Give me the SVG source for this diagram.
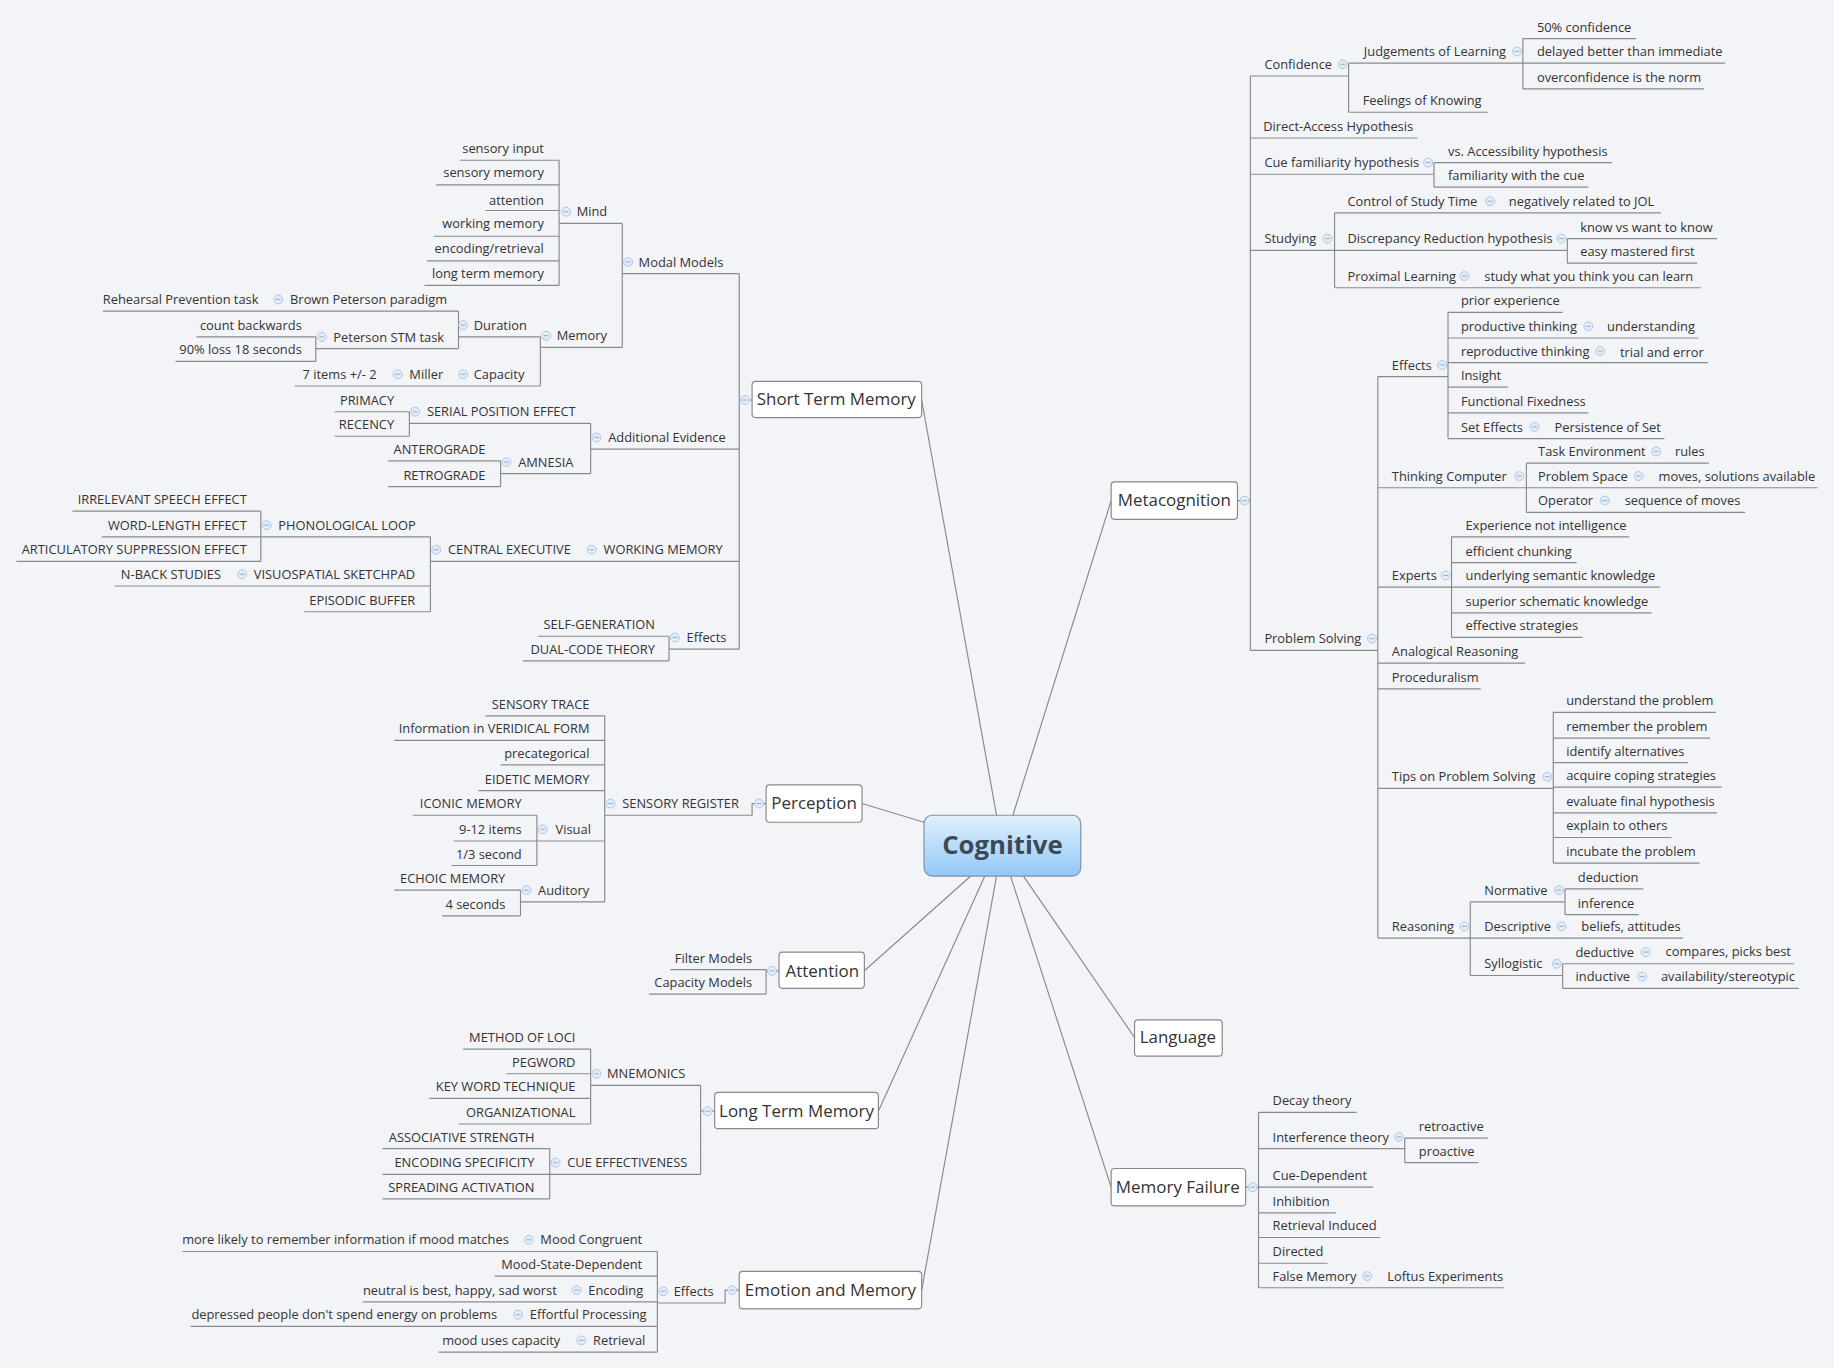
<svg xmlns="http://www.w3.org/2000/svg" xmlns:xlink="http://www.w3.org/1999/xlink" width="1834" height="1368" viewBox="0 0 1834 1368">
<style>
text{font-family:"Open Sans","DejaVu Sans",sans-serif;font-size:11px;fill:#333}
.l{text-anchor:end}
.m{font-size:14.5px;text-anchor:middle}
.box{fill:#fff;stroke:#888;stroke-width:1}
.c path{fill:none;stroke:#8a8a8a;stroke-width:1}
</style>
<defs>
<linearGradient id="cg" x1="0" y1="0" x2="0" y2="1"><stop offset="0" stop-color="#e2f0fd"/><stop offset="1" stop-color="#92c8f6"/></linearGradient>
<symbol id="mi" overflow="visible"><circle r="3.8" fill="#e3ecf7" stroke="#a9c3e2" stroke-width="0.8"/><path d="M-2,0H2" stroke="#8fb0d8" stroke-width="0.9"/></symbol>
</defs>
<rect width="1834" height="1368" fill="#f3f4f8"/>
<g transform="scale(1.16964)">
<g class="c" id="connectors">
<path d="M852,697L788,342M866,697L950,428M790,703L737,687M830,749L739,830M842,749L751,950M852,749L788,1103M875,749L970,887M864,749L950,1015"/>
<path d="M632,234V555M632,342H643M532,234H632M478,191H532M532,191V297M462,297H532M393,137H478M373,158H478M415,180H478M371,202H478M365,223H478M363,244H478M478,137V244M462,288V330M392,288H462M392,330H462M392,266V298M243,266H392M270,298H392M88,266H243M270,288V309M168,288H270M150,309H270M335,330H392M252,330H335"/>
<path d="M505,384H632M505,362V405M350,362H505M428,405H505M350,352V373M286,352H350M286,373H350M428,394V416M332,394H428M332,416H428M500,480H632M368,480H500M368,459V523M223,459H368M202,501H368M260,523H368M223,437V480M62,437H223M87,459H223M14,480H223M98,501H202M572,555H632M572,544V565M460,544H572M447,565H572"/>
<path d="M517,697H643V687H655M517,612V771M415,612H517M337,633H517M428,654H517M409,676H517M459,719H517M445,771H517M459,697V740M353,697H459M388,719H459M386,740H459M445,761V783M337,761H445M378,783H445"/>
<path d="M655,829V850M655,830H666M573,829H655M555,850H655"/>
<path d="M599,928V1004M599,950H611M505,928H599M470,1004H599M505,897V961M396,897H505M433,918H505M367,939H505M392,961H505M470,982V1025M327,982H470M327,1004H470M327,1025H470"/>
<path d="M562,1114H620V1103H632M562,1070V1156M447,1070H562M423,1091H562M488,1113H562M438,1134H562M492,1156H562M156,1070H447M310,1113H488M163,1134H438M375,1156H492"/>
<path d="M1058,428H1069M1069,65V556M1069,65H1153M1153,54V96M1153,54H1302M1153,96H1272M1302,33V76M1302,33H1399M1302,54H1475M1302,76H1457M1069,118H1212M1069,149H1226M1226,139V160M1226,139H1378M1226,160H1358M1069,214H1141M1141,182V246M1141,182H1279M1141,214H1340M1141,246H1257M1279,182H1420M1340,204V225M1340,204H1468M1340,225H1451M1257,246H1454"/>
<path d="M1069,556H1178M1178,322V802M1178,322H1238M1178,417H1305M1178,502H1241M1178,567H1304M1178,589H1266M1178,674H1328M1178,802H1257M1238,267V375M1238,267H1336M1238,289H1363M1238,310H1373M1238,331H1289M1238,353H1358M1238,375H1317M1363,289H1452M1373,310H1460M1317,375H1423M1305,396V438M1305,396H1421M1305,417H1406M1305,438H1377M1421,396H1461M1406,417H1554M1377,438H1492M1241,459V545M1241,459H1393M1241,481H1348M1241,502H1419M1241,524H1412M1241,545H1353M1328,609V738M1328,609H1467M1328,631H1462M1328,652H1443M1328,673H1472M1328,695H1468M1328,716H1429M1328,738H1453M1257,771V834M1257,771H1338M1257,802H1340M1257,834H1336M1338,760V782M1338,760H1405M1338,782H1401M1340,802H1439M1336,824V845M1336,824H1412M1336,845H1409M1412,824H1534M1409,845H1538"/>
<path d="M1065,1015H1076M1076,951V1101M1076,951H1160M1076,982H1201M1076,1015H1174M1076,1037H1142M1076,1058H1180M1076,1080H1135M1076,1101H1174M1201,973V994M1201,973H1272M1201,994H1264M1174,1101H1286"/>
</g>
<g id="center"><rect x="790" y="697" width="134" height="52" rx="7" fill="url(#cg)" stroke="#7d8fa3"/><text x="857" y="730" style="font-size:22px;font-weight:bold;fill:#3b4a57;text-anchor:middle">Cognitive</text></g>
<g id="stm"><rect class="box" x="643" y="326" width="145" height="31" rx="3"/><text class="m" x="715" y="346">Short Term Memory</text><use href="#mi" x="637" y="342"/></g>
<g id="perception"><rect class="box" x="655" y="671" width="82" height="32" rx="3"/><text class="m" x="696" y="692">Perception</text><use href="#mi" x="649" y="687"/></g>
<g id="attention"><rect class="box" x="666" y="814" width="73" height="31" rx="3"/><text class="m" x="703" y="835">Attention</text><use href="#mi" x="660" y="830"/></g>
<g id="ltm"><rect class="box" x="611" y="934" width="140" height="31" rx="3"/><text class="m" x="681" y="955">Long Term Memory</text><use href="#mi" x="605" y="950"/></g>
<g id="emotion"><rect class="box" x="632" y="1087" width="156" height="32" rx="3"/><text class="m" x="710" y="1108">Emotion and Memory</text><use href="#mi" x="626" y="1103"/></g>
<g id="meta"><rect class="box" x="950" y="412" width="108" height="32" rx="3"/><text class="m" x="1004" y="433">Metacognition</text><use href="#mi" x="1064" y="428"/></g>
<g id="language"><rect class="box" x="970" y="872" width="75" height="31" rx="3"/><text class="m" x="1007" y="892">Language</text></g>
<g id="mfail"><rect class="box" x="950" y="999" width="115" height="32" rx="3"/><text class="m" x="1007" y="1020">Memory Failure</text><use href="#mi" x="1071" y="1015"/></g>
<g id="stm-sub">
<g id="n1"><text x="546" y="228">Modal Models</text><use href="#mi" x="537" y="224"/></g>
<g id="n2"><text x="493" y="185">Mind</text><use href="#mi" x="484" y="181"/></g>
<g id="n3"><text class="l" x="465" y="131">sensory input</text></g>
<g id="n4"><text class="l" x="465" y="151">sensory memory</text></g>
<g id="n5"><text class="l" x="465" y="175">attention</text></g>
<g id="n6"><text class="l" x="465" y="195">working memory</text></g>
<g id="n7"><text class="l" x="465" y="216">encoding/retrieval</text></g>
<g id="n8"><text class="l" x="465" y="238">long term memory</text></g>
<g id="n9"><text x="476" y="291">Memory</text><use href="#mi" x="467" y="287"/></g>
<g id="n10"><text x="405" y="282">Duration</text><use href="#mi" x="396" y="278"/></g>
<g id="n11"><text x="405" y="324">Capacity</text><use href="#mi" x="396" y="320"/></g>
<g id="n12"><text x="248" y="260">Brown Peterson paradigm</text><use href="#mi" x="238" y="256"/></g>
<g id="n13"><text class="l" x="221" y="260">Rehearsal Prevention task</text></g>
<g id="n14"><text x="285" y="292">Peterson STM task</text><use href="#mi" x="275" y="288"/></g>
<g id="n15"><text class="l" x="258" y="282">count backwards</text></g>
<g id="n16"><text class="l" x="258" y="303">90% loss 18 seconds</text></g>
<g id="n17"><text x="350" y="324">Miller</text><use href="#mi" x="340" y="320"/></g>
<g id="n18"><text class="l" x="322" y="324">7 items +/- 2</text></g>
<g id="n19"><text x="520" y="378">Additional Evidence</text><use href="#mi" x="510" y="374"/></g>
<g id="n20"><text x="365" y="356">SERIAL POSITION EFFECT</text><use href="#mi" x="355" y="352"/></g>
<g id="n21"><text class="l" x="337" y="346">PRIMACY</text></g>
<g id="n22"><text class="l" x="337" y="367">RECENCY</text></g>
<g id="n23"><text x="443" y="399">AMNESIA</text><use href="#mi" x="433" y="395"/></g>
<g id="n24"><text class="l" x="415" y="388">ANTEROGRADE</text></g>
<g id="n25"><text class="l" x="415" y="410">RETROGRADE</text></g>
<g id="n26"><text x="516" y="474">WORKING MEMORY</text><use href="#mi" x="506" y="470"/></g>
<g id="n27"><text x="383" y="474">CENTRAL EXECUTIVE</text><use href="#mi" x="373" y="470"/></g>
<g id="n28"><text x="238" y="453">PHONOLOGICAL LOOP</text><use href="#mi" x="228" y="449"/></g>
<g id="n29"><text class="l" x="211" y="431">IRRELEVANT SPEECH EFFECT</text></g>
<g id="n30"><text class="l" x="211" y="453">WORD-LENGTH EFFECT</text></g>
<g id="n31"><text class="l" x="211" y="474">ARTICULATORY SUPPRESSION EFFECT</text></g>
<g id="n32"><text x="217" y="495">VISUOSPATIAL SKETCHPAD</text><use href="#mi" x="207" y="491"/></g>
<g id="n33"><text class="l" x="189" y="495">N-BACK STUDIES</text></g>
<g id="n34"><text class="l" x="355" y="517">EPISODIC BUFFER</text></g>
<g id="n35"><text x="587" y="549">Effects</text><use href="#mi" x="577" y="545"/></g>
<g id="n36"><text class="l" x="560" y="538">SELF-GENERATION</text></g>
<g id="n37"><text class="l" x="560" y="559">DUAL-CODE THEORY</text></g>
</g>
<g id="perc-sub">
<g id="p1"><text x="532" y="691">SENSORY REGISTER</text><use href="#mi" x="522" y="687"/></g>
<g id="p2"><text class="l" x="504" y="606">SENSORY TRACE</text></g>
<g id="p3"><text class="l" x="504" y="627">Information in VERIDICAL FORM</text></g>
<g id="p4"><text class="l" x="504" y="648">precategorical</text></g>
<g id="p5"><text class="l" x="504" y="670">EIDETIC MEMORY</text></g>
<g id="p6"><text x="475" y="713">Visual</text><use href="#mi" x="464" y="709"/></g>
<g id="p7"><text x="460" y="765">Auditory</text><use href="#mi" x="450" y="761"/></g>
<g id="p8"><text class="l" x="446" y="691">ICONIC MEMORY</text></g>
<g id="p9"><text class="l" x="446" y="713">9-12 items</text></g>
<g id="p10"><text class="l" x="446" y="734">1/3 second</text></g>
<g id="p11"><text class="l" x="432" y="755">ECHOIC MEMORY</text></g>
<g id="p12"><text class="l" x="432" y="777">4 seconds</text></g>
</g>
<g id="att-sub">
<g id="a1"><text class="l" x="643" y="823">Filter Models</text></g>
<g id="a2"><text class="l" x="643" y="844">Capacity Models</text></g>
</g>
<g id="ltm-sub">
<g id="l1"><text x="519" y="922">MNEMONICS</text><use href="#mi" x="510" y="918"/></g>
<g id="l2"><text x="485" y="998">CUE EFFECTIVENESS</text><use href="#mi" x="475" y="994"/></g>
<g id="l3"><text class="l" x="492" y="891">METHOD OF LOCI</text></g>
<g id="l4"><text class="l" x="492" y="912">PEGWORD</text></g>
<g id="l5"><text class="l" x="492" y="933">KEY WORD TECHNIQUE</text></g>
<g id="l6"><text class="l" x="492" y="955">ORGANIZATIONAL</text></g>
<g id="l7"><text class="l" x="457" y="976">ASSOCIATIVE STRENGTH</text></g>
<g id="l8"><text class="l" x="457" y="998">ENCODING SPECIFICITY</text></g>
<g id="l9"><text class="l" x="457" y="1019">SPREADING ACTIVATION</text></g>
</g>
<g id="emo-sub">
<g id="e1"><text x="576" y="1108">Effects</text><use href="#mi" x="567" y="1104"/></g>
<g id="e2"><text x="462" y="1064">Mood Congruent</text><use href="#mi" x="452" y="1060"/></g>
<g id="e3"><text class="l" x="549" y="1085">Mood-State-Dependent</text></g>
<g id="e4"><text x="503" y="1107">Encoding</text><use href="#mi" x="493" y="1103"/></g>
<g id="e5"><text x="453" y="1128">Effortful Processing</text><use href="#mi" x="443" y="1124"/></g>
<g id="e6"><text x="507" y="1150">Retrieval</text><use href="#mi" x="497" y="1146"/></g>
<g id="e7"><text class="l" x="435" y="1064">more likely to remember information if mood matches</text></g>
<g id="e8"><text class="l" x="476" y="1107">neutral is best, happy, sad worst</text></g>
<g id="e9"><text class="l" x="425" y="1128">depressed people don't spend energy on problems</text></g>
<g id="e10"><text class="l" x="479" y="1150">mood uses capacity</text></g>
</g>
<g id="meta-sub">
<g id="m1"><text x="1081" y="59">Confidence</text><use href="#mi" x="1148" y="55"/></g>
<g id="m2"><text x="1166" y="48">Judgements of Learning</text><use href="#mi" x="1297" y="44"/></g>
<g id="m3"><text x="1314" y="27">50% confidence</text></g>
<g id="m4"><text x="1314" y="48">delayed better than immediate</text></g>
<g id="m5"><text x="1314" y="70">overconfidence is the norm</text></g>
<g id="m6"><text x="1165" y="90">Feelings of Knowing</text></g>
<g id="m7"><text x="1080" y="112">Direct-Access Hypothesis</text></g>
<g id="m8"><text x="1081" y="143">Cue familiarity hypothesis</text><use href="#mi" x="1221" y="139"/></g>
<g id="m9"><text x="1238" y="133">vs. Accessibility hypothesis</text></g>
<g id="m10"><text x="1238" y="154">familiarity with the cue</text></g>
<g id="m11"><text x="1081" y="208">Studying</text><use href="#mi" x="1135" y="204"/></g>
<g id="m12"><text x="1152" y="176">Control of Study Time</text><use href="#mi" x="1274" y="172"/></g>
<g id="m13"><text x="1290" y="176">negatively related to JOL</text></g>
<g id="m14"><text x="1152" y="208">Discrepancy Reduction hypothesis</text><use href="#mi" x="1335" y="204"/></g>
<g id="m15"><text x="1351" y="198">know vs want to know</text></g>
<g id="m16"><text x="1351" y="219">easy mastered first</text></g>
<g id="m17"><text x="1152" y="240">Proximal Learning</text><use href="#mi" x="1252" y="236"/></g>
<g id="m18"><text x="1269" y="240">study what you think you can learn</text></g>
<g id="m19"><text x="1081" y="550">Problem Solving</text><use href="#mi" x="1173" y="546"/></g>
<g id="m20"><text x="1190" y="316">Effects</text><use href="#mi" x="1233" y="312"/></g>
<g id="m21"><text x="1249" y="261">prior experience</text></g>
<g id="m22"><text x="1249" y="283">productive thinking</text><use href="#mi" x="1358" y="279"/></g>
<g id="m23"><text x="1374" y="283">understanding</text></g>
<g id="m24"><text x="1249" y="304">reproductive thinking</text><use href="#mi" x="1368" y="300"/></g>
<g id="m25"><text x="1385" y="305">trial and error</text></g>
<g id="m26"><text x="1249" y="325">Insight</text></g>
<g id="m27"><text x="1249" y="347">Functional Fixedness</text></g>
<g id="m28"><text x="1249" y="369">Set Effects</text><use href="#mi" x="1312" y="365"/></g>
<g id="m29"><text x="1329" y="369">Persistence of Set</text></g>
<g id="m30"><text x="1190" y="411">Thinking Computer</text><use href="#mi" x="1299" y="407"/></g>
<g id="m31"><text x="1315" y="390">Task Environment</text><use href="#mi" x="1416" y="386"/></g>
<g id="m32"><text x="1432" y="390">rules</text></g>
<g id="m33"><text x="1315" y="411">Problem Space</text><use href="#mi" x="1401" y="407"/></g>
<g id="m34"><text x="1418" y="411">moves, solutions available</text></g>
<g id="m35"><text x="1315" y="432">Operator</text><use href="#mi" x="1372" y="428"/></g>
<g id="m36"><text x="1389" y="432">sequence of moves</text></g>
<g id="m37"><text x="1190" y="496">Experts</text><use href="#mi" x="1236" y="492"/></g>
<g id="m38"><text x="1253" y="453">Experience not intelligence</text></g>
<g id="m39"><text x="1253" y="475">efficient chunking</text></g>
<g id="m40"><text x="1253" y="496">underlying semantic knowledge</text></g>
<g id="m41"><text x="1253" y="518">superior schematic knowledge</text></g>
<g id="m42"><text x="1253" y="539">effective strategies</text></g>
<g id="m43"><text x="1190" y="561">Analogical Reasoning</text></g>
<g id="m44"><text x="1190" y="583">Proceduralism</text></g>
<g id="m45"><text x="1190" y="668">Tips on Problem Solving</text><use href="#mi" x="1323" y="664"/></g>
<g id="m46"><text x="1339" y="603">understand the problem</text></g>
<g id="m47"><text x="1339" y="625">remember the problem</text></g>
<g id="m48"><text x="1339" y="646">identify alternatives</text></g>
<g id="m49"><text x="1339" y="667">acquire coping strategies</text></g>
<g id="m50"><text x="1339" y="689">evaluate final hypothesis</text></g>
<g id="m51"><text x="1339" y="710">explain to others</text></g>
<g id="m52"><text x="1339" y="732">incubate the problem</text></g>
<g id="m53"><text x="1190" y="796">Reasoning</text><use href="#mi" x="1252" y="792"/></g>
<g id="m54"><text x="1269" y="765">Normative</text><use href="#mi" x="1333" y="761"/></g>
<g id="m55"><text x="1349" y="754">deduction</text></g>
<g id="m56"><text x="1349" y="776">inference</text></g>
<g id="m57"><text x="1269" y="796">Descriptive</text><use href="#mi" x="1335" y="792"/></g>
<g id="m58"><text x="1352" y="796">beliefs, attitudes</text></g>
<g id="m59"><text x="1269" y="828">Syllogistic</text><use href="#mi" x="1331" y="824"/></g>
<g id="m60"><text x="1347" y="818">deductive</text><use href="#mi" x="1407" y="814"/></g>
<g id="m61"><text x="1424" y="817">compares, picks best</text></g>
<g id="m62"><text x="1347" y="839">inductive</text><use href="#mi" x="1404" y="835"/></g>
<g id="m63"><text x="1420" y="839">availability/stereotypic</text></g>
</g>
<g id="mf-sub">
<g id="f1"><text x="1088" y="945">Decay theory</text></g>
<g id="f2"><text x="1088" y="976">Interference theory</text><use href="#mi" x="1196" y="972"/></g>
<g id="f3"><text x="1213" y="967">retroactive</text></g>
<g id="f4"><text x="1213" y="988">proactive</text></g>
<g id="f5"><text x="1088" y="1009">Cue-Dependent</text></g>
<g id="f6"><text x="1088" y="1031">Inhibition</text></g>
<g id="f7"><text x="1088" y="1052">Retrieval Induced</text></g>
<g id="f8"><text x="1088" y="1074">Directed</text></g>
<g id="f9"><text x="1088" y="1095">False Memory</text><use href="#mi" x="1169" y="1091"/></g>
<g id="f10"><text x="1186" y="1095">Loftus Experiments</text></g>
</g>
</g>
</svg>
